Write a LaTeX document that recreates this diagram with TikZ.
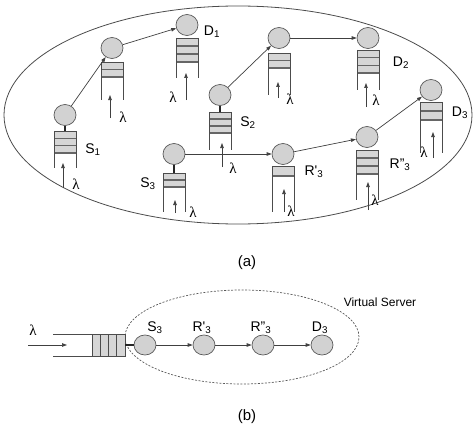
\documentclass[tikz,border=0pt]{standalone}
\usepackage{fontspec}
\setmainfont{Liberation Sans}
\newfontfamily\grkfont{Liberation Serif}
\usetikzlibrary{arrows.meta,shapes.geometric}

\tikzset{
  srv/.style={ellipse, draw=black!65, fill=gray!35, line width=0.7pt,
    minimum width=22pt, minimum height=21pt, inner sep=0pt},
  link/.style={-{Triangle[length=5pt,width=3.5pt]}, line width=0.7pt, black!75},
  feed/.style={-{Triangle[length=5pt,width=3.5pt]}, line width=0.7pt, black!75},
  stem/.style={line width=2pt, black!85},
  leg/.style={line width=0.7pt, black!70},
  sep/.style={line width=1.4pt, black!60},
  lbl/.style={font=\fontsize{14}{16}\selectfont, inner sep=0pt},
  lam/.style={font=\grkfont\fontsize{15}{17}\selectfont, inner sep=0pt},
}

% queue of a node: x, top, bands, band height, end of legs
\newcommand{\qstack}[5]{%
  \fill[gray!32] ({#1-11},#2) rectangle ({#1+11},{#2+#3*#4});
  \draw[leg] ({#1-11},#2) -- ({#1+11},#2);
  \foreach \k in {1,...,#3}
    \draw[sep] ({#1-11},{#2+\k*#4}) -- ({#1+11},{#2+\k*#4});
  \draw[leg] ({#1-11},#2) -- ({#1-11},#5);
  \draw[leg] ({#1+11},#2) -- ({#1+11},#5);
}

% arrivals: name, x, tip, tail, lambda x, lambda y
\newcommand{\arrive}[6]{%
  \coordinate (#1-tip) at (#2,#3);
  \coordinate (#1-in) at (#2,#4);
  \draw[feed] (#1-in) -- (#1-tip);
  \node[lam] (#1-lam) at (#5,#6) {λ};
}

\begin{document}
\begin{tikzpicture}[x=1pt,y=-1pt]
  \useasboundingbox (0,0) rectangle (474,428);

  % (a) the network
  \node[ellipse, draw=black!70, line width=0.8pt,
  minimum width=468pt,
  minimum height=218pt] (net) at (238,115) {};

  \node[srv] (s1) at (65,115) {};
  \node[srv] (m1) at (112,48) {};
  \node[srv] (d1) at (187,25) {};
  \node[srv] (s2) at (220,95) {};
  \node[srv] (m2) at (279,38) {};
  \node[srv] (d2) at (368,38) {};
  \node[srv] (d3) at (431,90) {};
  \node[srv] (s3) at (174,154) {};
  \node[srv] (r3a) at (283,154) {};
  \node[srv] (r3b) at (367,137) {};

  \qstack{65}{131}{3}{7.3}{168}
  \qstack{112}{62}{2}{7.5}{100}
  \qstack{187}{38}{3}{8}{78}
  \qstack{220}{112}{3}{7}{150}
  \qstack{279}{53}{2}{7.5}{95}
  \qstack{368}{50}{3}{7.7}{90}
  \qstack{431}{102}{2}{9}{153}
  \qstack{174}{173}{2}{7}{212}
  \qstack{283}{166}{1}{10}{212}
  \qstack{367}{150}{3}{8}{200}

  \coordinate (s1-q) at (65,131);
  \coordinate (s2-q) at (220,112);
  \coordinate (s3-q) at (174,173);
  \draw[stem] (s1) -- (s1-q);
  \draw[stem] (s2) -- (s2-q);
  \draw[stem] (s3) -- (s3-q);

  \arrive{s1}{63}{163}{188}{76}{184}
  \arrive{m1}{110}{95}{118}{123}{117}
  \arrive{d1}{186}{73}{100}{173}{97}
  \arrive{s2}{222}{143}{167}{233}{168}
  \arrive{m2}{278}{82}{98}{290}{99}
  \arrive{d2}{366}{83}{107}{376}{100}
  \arrive{d3}{433}{132}{158}{424}{152}
  \arrive{s3}{175}{200}{213}{193}{212}
  \arrive{r3a}{284}{189}{212}{291}{211}
  \arrive{r3b}{368}{182}{210}{375}{200}

  \node[lbl] (l-s1) at (93,150) {S\textsubscript{1}};
  \node[lbl] (l-d1) at (212,32) {D\textsubscript{1}};
  \node[lbl] (l-s2) at (248,123) {S\textsubscript{2}};
  \node[lbl] (l-d2) at (401,63) {D\textsubscript{2}};
  \node[lbl] (l-d3) at (460,113) {D\textsubscript{3}};
  \node[lbl] (l-s3) at (148,184) {S\textsubscript{3}};
  \node[lbl] (l-r3a) at (314,172) {R\textquotesingle\textsubscript{3}};
  \node[lbl] (l-r3b) at (400,165) {R"\textsubscript{3}};

  \draw[link] (s1) -- (m1);
  \draw[link] (m1) -- (d1);
  \draw[link] (s2) -- (m2);
  \draw[link] (m2) -- (d2);
  \draw[link] (s3) -- (r3a);
  \draw[link] (r3a) -- (r3b);
  \draw[link] (r3b) -- (d3);

  \node[font=\fontsize{15}{17}\selectfont] (cap-a) at (247,263) {(a)};

  % (b) the virtual server
  \node[ellipse, draw=black!65, line width=0.7pt,
  dash pattern=on 2pt off 1.5pt,
  minimum width=234pt,
  minimum height=94pt] (vs) at (242,337) {};
  \node[font=\fontsize{12}{14}\selectfont] (vs-l) at (380,302) {Virtual Server};

  \draw[leg] (53,334) -- (92,334);
  \draw[leg] (53,356) -- (92,356);
  \foreach \i in {0,...,3}
    \draw[fill=gray!32, draw=black!70, line width=0.7pt]
      ({92+\i*8.25},334) rectangle ({100.25+\i*8.25},356);
  \coordinate (q-out) at (125,345);
  \coordinate (q-in) at (28,345);
  \coordinate (q-tip) at (67,345);
  \draw[feed] (q-in) -- (q-tip);
  \node[lam] (q-lam) at (33,330) {λ};

  \node[srv, minimum height=20pt] (b-s3) at (145,345) {};
  \node[srv, minimum height=20pt] (b-r3a) at (204,345) {};
  \node[srv, minimum height=20pt] (b-r3b) at (263,345) {};
  \node[srv, minimum height=20pt] (b-d3) at (322,345) {};

  \draw[stem] (q-out) -- (b-s3);
  \draw[link] (b-s3) -- (b-r3a);
  \draw[link] (b-r3a) -- (b-r3b);
  \draw[link] (b-r3b) -- (b-d3);

  \node[lbl] (lb-s3) at (155,328) {S\textsubscript{3}};
  \node[lbl] (lb-r3a) at (202,328) {R\textquotesingle\textsubscript{3}};
  \node[lbl] (lb-r3b) at (261,328) {R"\textsubscript{3}};
  \node[lbl] (lb-d3) at (320,328) {D\textsubscript{3}};

  \node[font=\fontsize{15}{17}\selectfont] (cap-b) at (247,417) {(b)};
\end{tikzpicture}
\end{document}
